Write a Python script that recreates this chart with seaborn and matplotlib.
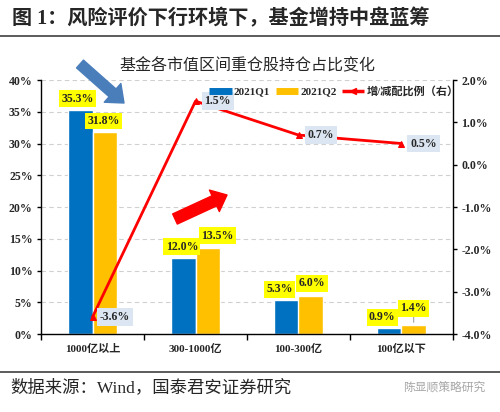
import numpy as np
import pandas as pd
import matplotlib
matplotlib.use("Agg")
import matplotlib.pyplot as plt
import seaborn as sns
from matplotlib.lines import Line2D
from matplotlib.patches import FancyArrowPatch

# --------------------------------------------------------------
# Data
# --------------------------------------------------------------
categories = ["1000亿以上", "300-1000亿", "100-300亿", "100亿以下"]
quarters = ["2021Q1", "2021Q2"]
q1_share = [35.3, 12.0, 5.3, 0.9]
q2_share = [31.8, 13.5, 6.0, 1.4]
change = [-3.6, 1.5, 0.7, 0.5]
line_label = "增/减配比例（右）"

left_ticks = [0, 5, 10, 15, 20, 25, 30, 35, 40]
right_ticks = [-4, -3, -2, -1, 0, 1, 2]

header = "图 1：风险评价下行环境下，基金增持中盘蓝筹"
title = "基金各市值区间重仓股持仓占比变化"
source = "数据来源：Wind，国泰君安证券研究"
watermark = "陈显顺策略研究"

blue = "#0070C0"
yellow = "#FFC000"
red = "#FF0000"

# --------------------------------------------------------------
# Style
# --------------------------------------------------------------
sns.set_theme(style="white")
plt.rcParams["font.family"] = ["Liberation Serif", "Noto Sans CJK SC"]
plt.rcParams["axes.unicode_minus"] = False

df = pd.DataFrame(
    {
        "cat": categories * 2,
        "quarter": [quarters[0]] * 4 + [quarters[1]] * 4,
        "share": q1_share + q2_share,
    }
)

fig = plt.figure(figsize=(5, 4.12), dpi=100)
ax = fig.add_axes([0.082, 0.1893, 0.824, 0.6165])

sns.barplot(
    data=df,
    x="cat",
    y="share",
    hue="quarter",
    palette=[blue, yellow],
    saturation=1,
    width=0.476,
    gap=0,
    legend=False,
    ax=ax,
)
ax.set_xlim(-0.5, 3.5)
ax.set_ylim(0, 40)
ax.set_xlabel("")
ax.set_ylabel("")

# bar value labels (small nudges in points to mimic the hand-placed boxes)
nudges = [
    [(-2, 8), (-1, 8), (-5, 8), (-5, 8)],
    [(-1, 8), (7, 9), (1, 9), (0, 12)],
]
for k, cont in enumerate(ax.containers):
    for i, bar in enumerate(cont):
        x = bar.get_x() + bar.get_width() / 2
        h = bar.get_height()
        dx, dy = nudges[k][i]
        ax.annotate(
            f"{h:.1f}%",
            (x, h),
            xytext=(dx, dy),
            textcoords="offset points",
            ha="center",
            va="center",
            fontsize=8.5,
            fontweight="bold",
            bbox=dict(boxstyle="square,pad=0.2", fc="#FFFF00", ec="none"),
            zorder=5,
        )
        if k == 1 and i == 3:
            ax.annotate(
                "",
                (x, h),
                xytext=(x, h + 2.3),
                arrowprops=dict(arrowstyle="-", color="#808080", lw=0.6),
            )

ax.set_yticks(left_ticks, [f"{t}%" for t in left_ticks], fontsize=8.5, fontweight="bold")
ax.set_xticks(range(len(categories)), categories, fontsize=8, fontweight="bold")
ax.set_xticks(np.arange(-0.5, len(categories), 1), minor=True)
ax.tick_params(axis="x", which="major", length=0, pad=7)
ax.tick_params(axis="x", which="minor", bottom=True, length=4, width=1, color="black", direction="out")
ax.tick_params(axis="y", left=True, length=3, width=1, color="black", direction="out", pad=3)
ax.yaxis.grid(True, linestyle=(0, (4, 3)), color="#D0D0D0", lw=0.8)
ax.set_axisbelow(True)
for s in ["top", "right"]:
    ax.spines[s].set_visible(False)
for s in ["left", "bottom"]:
    ax.spines[s].set_color("black")
    ax.spines[s].set_linewidth(1)

# --------------------------------------------------------------
# Secondary axis: change in allocation
# --------------------------------------------------------------
ax2 = ax.twinx()
sns.lineplot(
    x=np.arange(len(categories)),
    y=change,
    color=red,
    lw=2,
    marker="^",
    markersize=5,
    markeredgecolor=red,
    legend=False,
    ax=ax2,
)
ax2.set_ylim(-4, 2)
ax2.set_xlim(-0.5, 3.5)
for i, v in enumerate(change):
    ax2.annotate(
        f"{v:.1f}%",
        (i, v),
        xytext=(16, 0),
        textcoords="offset points",
        ha="center",
        va="center",
        fontsize=8.5,
        fontweight="bold",
        bbox=dict(boxstyle="square,pad=0.25", fc="#DCE6F2", ec="none"),
    )
ax2.set_yticks(right_ticks, [f"{t:.1f}%" for t in right_ticks], fontsize=8.5, fontweight="bold")
ax2.tick_params(axis="y", right=True, length=3, width=1, color="black", direction="out", pad=3)
for s in ["top", "left", "bottom"]:
    ax2.spines[s].set_visible(False)
ax2.spines["right"].set_color("black")
ax2.spines["right"].set_linewidth(1)

# legend
handles = [
    Line2D([], [], color=blue, lw=5, solid_capstyle="butt"),
    Line2D([], [], color=yellow, lw=5, solid_capstyle="butt"),
    Line2D([], [], color=red, lw=2.5, marker="<", markersize=5, solid_capstyle="butt"),
]
fig.legend(
    handles,
    quarters + [line_label],
    loc="center",
    bbox_to_anchor=(0.668, 0.779),
    ncol=3,
    frameon=False,
    prop={"size": 8, "weight": "bold"},
    handlelength=2.0,
    handletextpad=0.2,
    columnspacing=0.5,
)

# --------------------------------------------------------------
# Titles, decorations
# --------------------------------------------------------------
fig.text(0.024, 0.953, header, fontsize=14.5, fontweight="bold", va="center", ha="left")
fig.add_artist(Line2D([0, 1], [0.913, 0.913], transform=fig.transFigure, color="#404040", lw=1.2))
fig.text(0.494, 0.84, title, fontsize=11.5, va="center", ha="center")

fig.add_artist(Line2D([0, 1], [0.098, 0.098], transform=fig.transFigure, color="#404040", lw=1.2))
fig.text(0.02, 0.058, source, fontsize=12.5, va="center", ha="left")
fig.text(0.97, 0.058, watermark, fontsize=8.5, color="#A6A6A6", va="center", ha="right")

# decorative arrows
fig.add_artist(
    FancyArrowPatch(
        (80 / 500, 1 - 64 / 412),
        (124 / 500, 1 - 103 / 412),
        transform=fig.transFigure,
        arrowstyle="simple,head_length=1.1,head_width=1.8,tail_width=0.75",
        mutation_scale=10,
        color="#4A7EBB",
        shrinkA=0,
        shrinkB=0,
    )
)
fig.add_artist(
    FancyArrowPatch(
        (175 / 500, 1 - 219 / 412),
        (227 / 500, 1 - 195 / 412),
        transform=fig.transFigure,
        arrowstyle="simple,head_length=1.0,head_width=1.7,tail_width=0.8",
        mutation_scale=10,
        color=red,
        shrinkA=0,
        shrinkB=0,
    )
)

fig.savefig("out.png", dpi=100)
